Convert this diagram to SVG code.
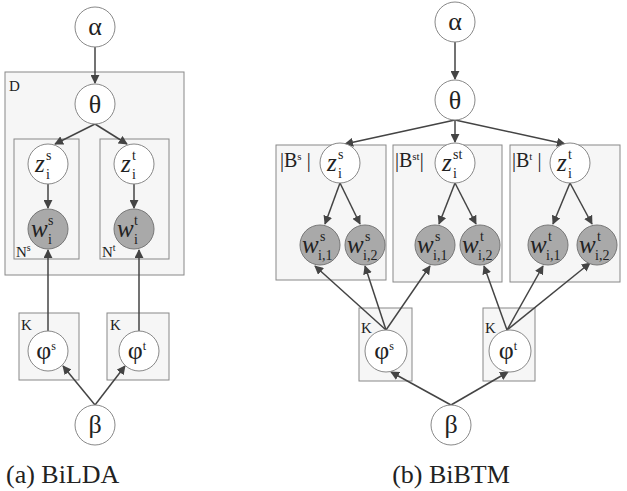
<svg xmlns="http://www.w3.org/2000/svg" width="627" height="491" viewBox="0 0 627 491" font-family="'Liberation Serif', 'Times New Roman', serif">
<style>
.pl{fill:#f6f6f6;stroke:#888;stroke-width:1}
.n{fill:#fff;stroke:#888;stroke-width:1}
.o{fill:#a9a9a9;stroke:#777;stroke-width:1}
text{font-family:'Liberation Serif','Times New Roman',serif;fill:#222}
.g{font-size:26px;text-anchor:middle}
.v{font-size:25px;font-style:italic}
.s{font-size:14px}
.lb{font-size:15px}
.e{stroke:#444;stroke-width:1.5;fill:none;marker-end:url(#a)}
</style>
<defs><marker id="a" viewBox="0 0 10 10" refX="9" refY="5" markerWidth="9" markerHeight="9" orient="auto-start-reverse" markerUnits="userSpaceOnUse"><path d="M0,0L10,5L0,10z" fill="#444"/></marker></defs>
<rect width="627" height="491" fill="#fff"/>
<g id="plates">
<rect class="pl" x="5" y="72" width="179" height="203"/>
<rect class="pl" x="14" y="139" width="65" height="120"/>
<rect class="pl" x="100" y="139" width="69" height="120"/>
<rect class="pl" x="19" y="313" width="60" height="67"/>
<rect class="pl" x="107" y="313" width="62" height="67"/>
<rect class="pl" x="276" y="145" width="110" height="135"/>
<rect class="pl" x="393" y="145" width="109" height="137"/>
<rect class="pl" x="510" y="145" width="110" height="137"/>
<rect class="pl" x="359" y="308" width="53" height="73"/>
<rect class="pl" x="483" y="308" width="52" height="73"/>
<text class="lb" x="9" y="91">D</text>
<text class="lb" x="16" y="257">N<tspan font-size="10" dy="-6">s</tspan></text>
<text class="lb" x="102" y="257">N<tspan font-size="10" dy="-6">t</tspan></text>
<text class="lb" x="21" y="330">K</text>
<text class="lb" x="110" y="330">K</text>
<text class="lb" x="361" y="333">K</text>
<text class="lb" x="485" y="333">K</text>
<text font-size="20" x="280" y="167">|B<tspan font-size="11" dy="-7">s</tspan><tspan dy="7"> |</tspan></text>
<text font-size="20" x="395" y="167">|B<tspan font-size="11" dy="-7">st</tspan><tspan dy="7">|</tspan></text>
<text font-size="20" x="512" y="167">|B<tspan font-size="11" dy="-7">t</tspan><tspan dy="7"> |</tspan></text>
</g>
<g id="connectors">
<path class="e" d="M95,47V83"/>
<path class="e" d="M95,124L55,144"/>
<path class="e" d="M95,124L127,144"/>
<path class="e" d="M48,184V208"/>
<path class="e" d="M134,184V208"/>
<path class="e" d="M48,331V250"/>
<path class="e" d="M139,331V250"/>
<path class="e" d="M95,405L63,366"/>
<path class="e" d="M95,405L125,366"/>
<path class="e" d="M455,42V79"/>
<path class="e" d="M455,120L345,144"/>
<path class="e" d="M455,120V142"/>
<path class="e" d="M455,120L565,144"/>
<path class="e" d="M340,183L325,224"/>
<path class="e" d="M340,183L360,224"/>
<path class="e" d="M455,183L439,224"/>
<path class="e" d="M455,183L476,224"/>
<path class="e" d="M570,183L553,224"/>
<path class="e" d="M570,183L592,224"/>
<path class="e" d="M386,330L315,266"/>
<path class="e" d="M386,330L365,266"/>
<path class="e" d="M386,330L430,266"/>
<path class="e" d="M507,330L484,266"/>
<path class="e" d="M507,330L543,266"/>
<path class="e" d="M507,330L590,263"/>
<path class="e" d="M451,405L391,372"/>
<path class="e" d="M451,405L508,372"/>
</g>
<g id="alpha1"><circle class="n" cx="95" cy="27" r="20"/><text class="g" x="95" y="35">α</text></g>
<g id="theta1"><circle class="n" cx="95" cy="104" r="20"/><text class="g" x="95" y="113">θ</text></g>
<g id="zs1"><circle class="n" cx="48" cy="164" r="20"/><text class="v" x="35" y="172">z</text><text class="s" x="46" y="160">s</text><text class="s" x="46" y="179">i</text></g>
<g id="zt1"><circle class="n" cx="134" cy="164" r="20"/><text class="v" x="121" y="172">z</text><text class="s" x="132" y="160">t</text><text class="s" x="132" y="179">i</text></g>
<g id="ws1"><circle class="o" cx="48" cy="229" r="20"/><text class="v" x="31" y="237">w</text><text class="s" x="48" y="225">s</text><text class="s" x="48" y="244">i</text></g>
<g id="wt1"><circle class="o" cx="134" cy="229" r="20"/><text class="v" x="117" y="237">w</text><text class="s" x="134" y="225">t</text><text class="s" x="134" y="244">i</text></g>
<g id="phis1"><circle class="n" cx="48" cy="351" r="20"/><text class="g" x="46" y="359">φ<tspan font-size="12" dy="-9">s</tspan></text></g>
<g id="phit1"><circle class="n" cx="139" cy="351" r="20"/><text class="g" x="137" y="359">φ<tspan font-size="12" dy="-9">t</tspan></text></g>
<g id="beta1"><circle class="n" cx="95" cy="425" r="20"/><text class="g" x="95" y="433">β</text></g>
<g id="alpha2"><circle class="n" cx="455" cy="22" r="20"/><text class="g" x="455" y="30">α</text></g>
<g id="theta2"><circle class="n" cx="455" cy="100" r="20"/><text class="g" x="455" y="109">θ</text></g>
<g id="zs2"><circle class="n" cx="340" cy="163" r="20"/><text class="v" x="327" y="171">z</text><text class="s" x="338" y="159">s</text><text class="s" x="338" y="178">i</text></g>
<g id="zst2"><circle class="n" cx="455" cy="163" r="20"/><text class="v" x="442" y="171">z</text><text class="s" x="453" y="159">st</text><text class="s" x="453" y="178">i</text></g>
<g id="zt2"><circle class="n" cx="570" cy="163" r="20"/><text class="v" x="557" y="171">z</text><text class="s" x="568" y="159">t</text><text class="s" x="568" y="178">i</text></g>
<g id="w1"><circle class="o" cx="320" cy="245" r="20"/><text class="v" x="302" y="253">w</text><text class="s" x="320" y="241">s</text><text class="s" x="318" y="260">i,1</text></g>
<g id="w2"><circle class="o" cx="365" cy="245" r="20"/><text class="v" x="347" y="253">w</text><text class="s" x="365" y="241">s</text><text class="s" x="363" y="260">i,2</text></g>
<g id="w3"><circle class="o" cx="435" cy="245" r="20"/><text class="v" x="417" y="253">w</text><text class="s" x="435" y="241">s</text><text class="s" x="433" y="260">i,1</text></g>
<g id="w4"><circle class="o" cx="480" cy="245" r="20"/><text class="v" x="462" y="253">w</text><text class="s" x="480" y="241">t</text><text class="s" x="478" y="260">i,2</text></g>
<g id="w5"><circle class="o" cx="548" cy="245" r="20"/><text class="v" x="530" y="253">w</text><text class="s" x="548" y="241">t</text><text class="s" x="546" y="260">i,1</text></g>
<g id="w6"><circle class="o" cx="597" cy="245" r="20"/><text class="v" x="579" y="253">w</text><text class="s" x="597" y="241">t</text><text class="s" x="595" y="260">i,2</text></g>
<g id="phis2"><circle class="n" cx="386" cy="351" r="21"/><text class="g" x="384" y="359">φ<tspan font-size="12" dy="-9">s</tspan></text></g>
<g id="phit2"><circle class="n" cx="510" cy="351" r="21"/><text class="g" x="508" y="359">φ<tspan font-size="12" dy="-9">t</tspan></text></g>
<g id="beta2"><circle class="n" cx="451" cy="425" r="20"/><text class="g" x="451" y="433">β</text></g>
<text font-size="26" x="6" y="483">(a) BiLDA</text>
<text font-size="26" x="451" y="483" text-anchor="middle">(b) BiBTM</text>
</svg>
